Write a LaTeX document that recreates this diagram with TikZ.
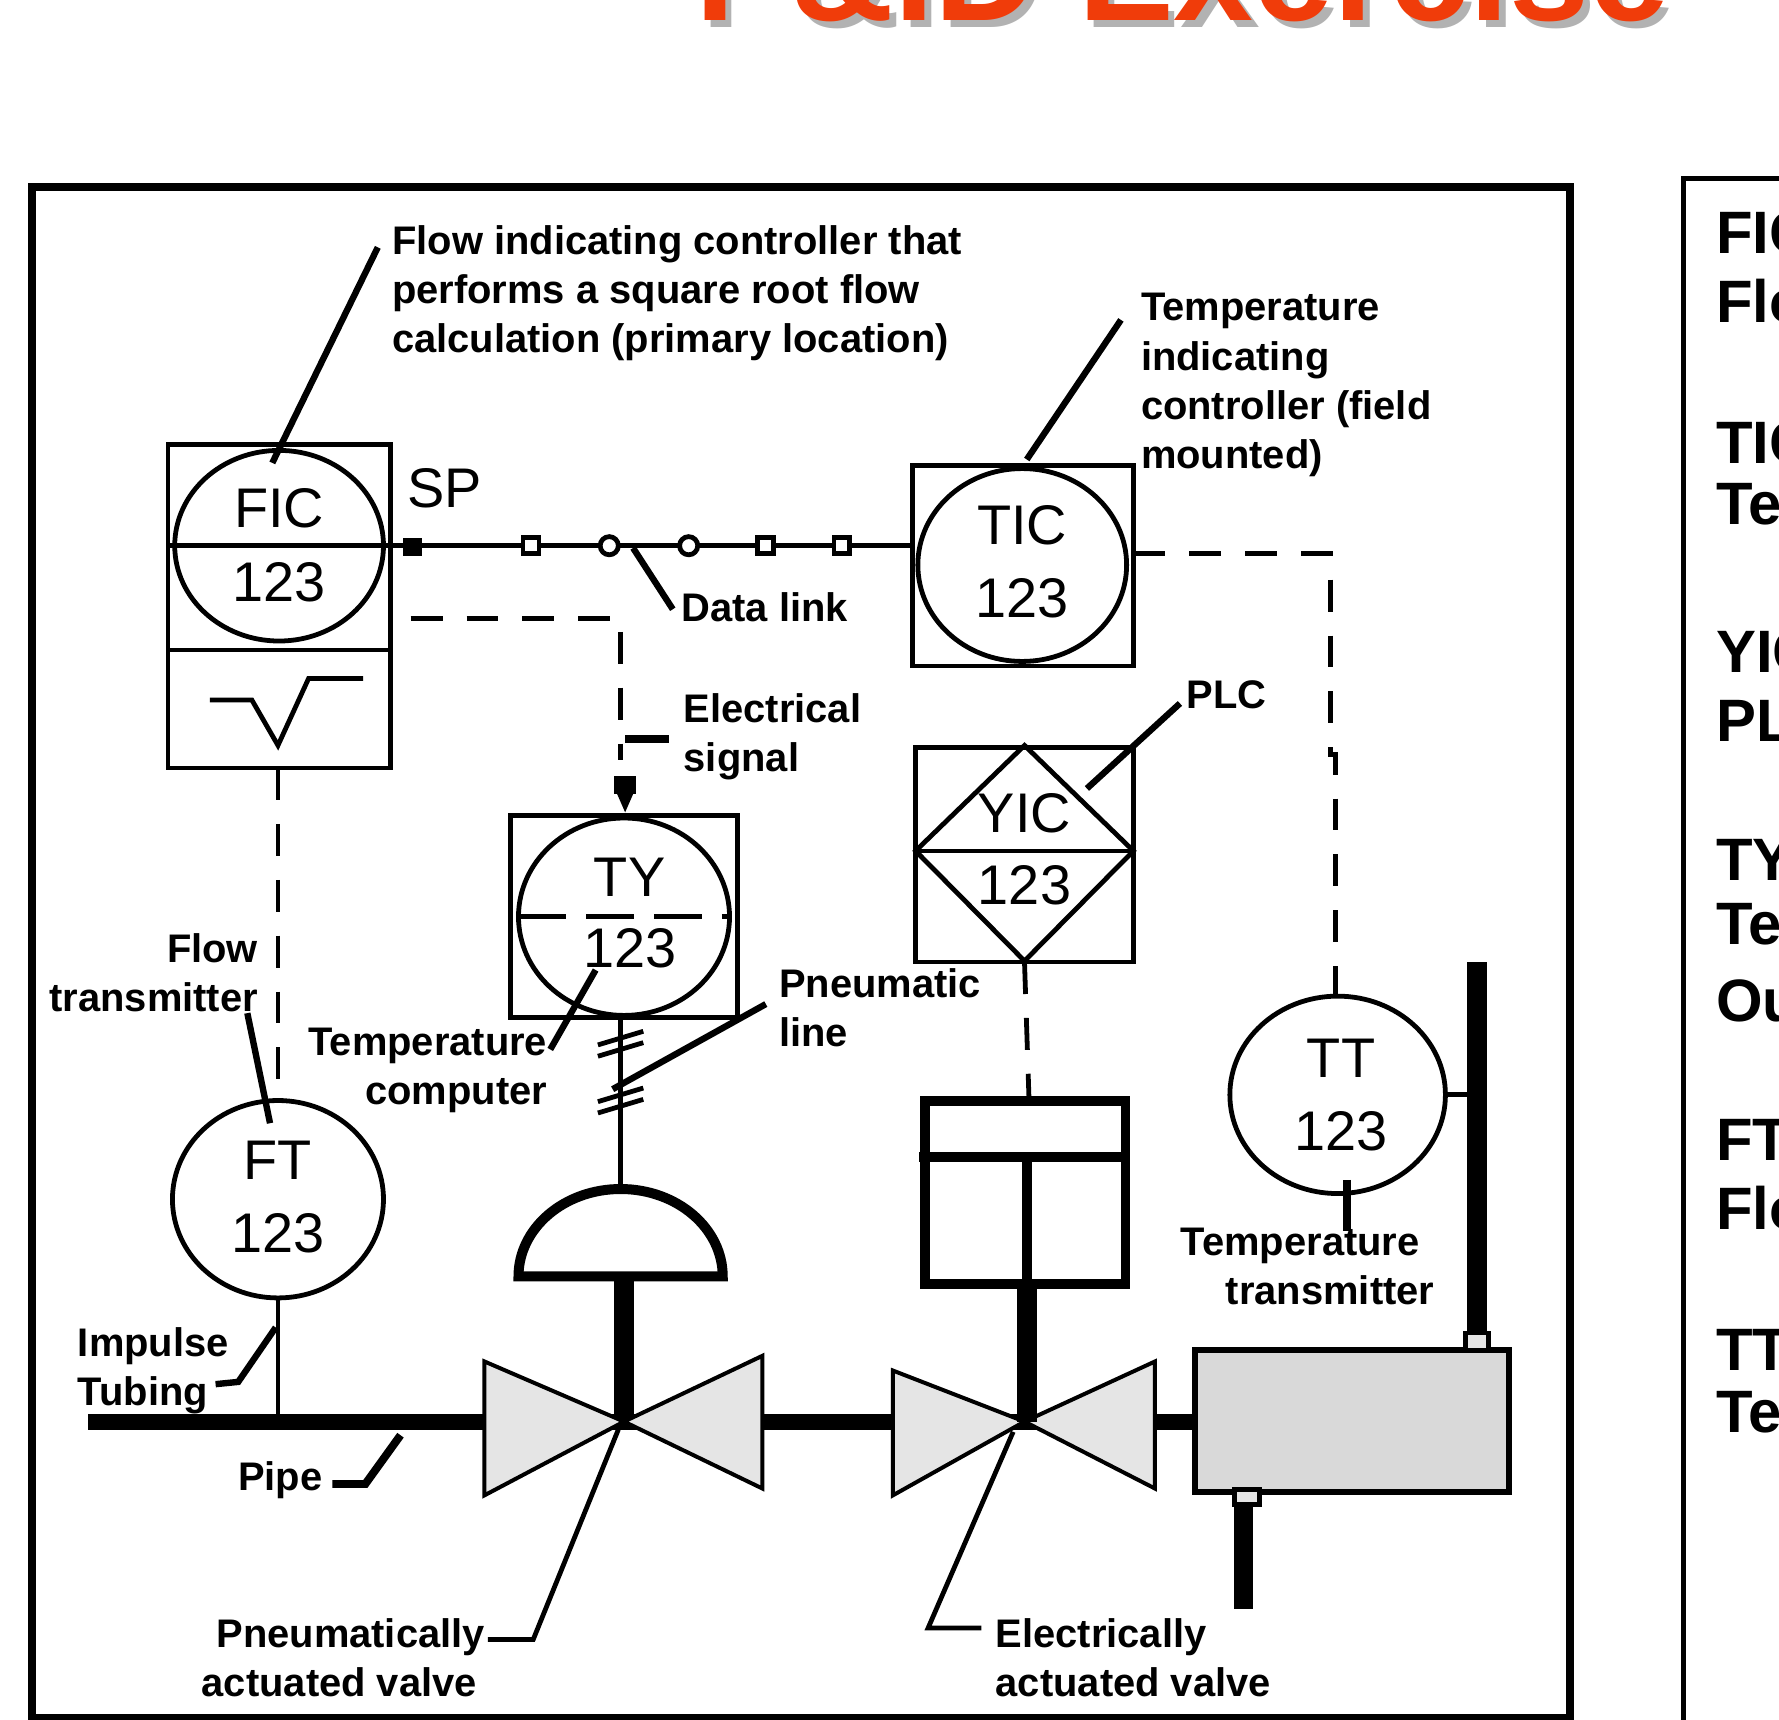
\documentclass[tikz,border=0pt]{standalone}
\usepackage{fontspec}
\setmainfont{Liberation Sans}
\usetikzlibrary{arrows.meta}
\begin{document}
\begin{tikzpicture}[x=0.01cm,y=-0.01cm,
 lab/.style={font=\fontsize{10}{12.3}\selectfont\bfseries,inner sep=0,align=left},
 tag/.style={font=\fontsize{14}{14}\selectfont,inner sep=0},
 side/.style={font=\fontsize{15}{18}\selectfont\bfseries,inner sep=0,anchor=west},
 thin/.style={line width=1.2pt},
 dsh/.style={line width=1.2pt,dash pattern=on 8pt off 6pt},
 pipe/.style={line width=4pt},
 vtri/.style={fill=gray!20,line width=1pt}]
\useasboundingbox (0,0) rectangle (1568,1516);
% title
\node[anchor=base west,inner sep=0,font=\fontsize{36}{36}\selectfont\bfseries,text=gray!60] (ts) at (618,24) {P\&ID Exercise};
\node[anchor=base west,inner sep=0,font=\fontsize{36}{36}\selectfont\bfseries,text={rgb,255:red,240;green,60;blue,10}] (title) at (612,18) {P\&ID Exercise};
% frames
\draw[line width=2pt] (28,165) rectangle (1384,1514);
\draw[line width=1.2pt] (1600,157) -- (1484,157) -- (1484,1530);
% side panel
\node[side] (s1) at (1512,205) {FIC};
\node[side] (s2) at (1512,265) {Flow};
\node[side] (s3) at (1512,390) {TIC};
\node[side] (s4) at (1512,450) {Temp};
\node[side] (s5) at (1512,575) {YIC};
\node[side] (s6) at (1512,635) {PLC};
\node[side] (s7) at (1512,758) {TY};
\node[side] (s8) at (1512,820) {Temp};
\node[side] (s9) at (1512,882) {Out};
\node[side] (s10) at (1512,1005) {FT};
\node[side] (s11) at (1512,1065) {Flow};
\node[side] (s12) at (1512,1190) {TT};
\node[side] (s13) at (1512,1250) {Temp};
% FIC
\draw[thin] (148,392) rectangle (344,677);
\draw[thin] (148,573) -- (344,573);
\draw[thin] (246,481) ellipse [x radius=92,y radius=84];
\draw[thin] (148,481) -- (344,481);
\node[tag] (fic) at (246,448) {FIC};
\node[tag] (fic2) at (246,513) {123};
\draw[thin] (185,617) -- (222,617) -- (245,657) -- (272,598) -- (320,598);
\node[tag] (sp) at (392,430) {SP};
% data link
\draw[thin] (344,481) -- (805,481);
\fill (355,474) rectangle (372,490);
\foreach \x in {468,675,742} \draw[thin,fill=white] (\x-7,474) rectangle (\x+7,488);
\foreach \x in {537,607} \draw[thin,fill=white] (\x,481) circle (8);
\draw[line width=1.6pt] (558,483) -- (593,537);
\node[lab,anchor=west] (dl) at (600,535) {Data link};
% TIC
\draw[thin] (804,410) rectangle (999,587);
\draw[thin] (901,498) ellipse [x radius=92,y radius=85];
\node[tag] (tic) at (901,463) {TIC};
\node[tag] (tic2) at (901,527) {123};
\draw[line width=1.6pt] (988,282) -- (905,405);
\node[lab,anchor=north west] (tict) at (1005,258) {Temperature\\indicating\\controller (field\\mounted)};
\draw[line width=1.6pt] (333,218) -- (240,408);
\node[lab,anchor=north west] (fict) at (345,198) {Flow indicating controller that\\performs a square root flow\\calculation (primary location)};
% dashed TIC -> TT
\draw[dsh] (999,488) -- (1173,488) -- (1173,665) -- (1177,665) -- (1177,880);
% electrical signal
\draw[dsh] (362,545) -- (547,545) -- (547,670);
\fill (541,684) rectangle (561,700);
\fill (544,700) -- (558,700) -- (551,716) -- cycle;
\draw[line width=2pt] (551,651) -- (590,651);
\node[lab,anchor=north west] (es) at (602,611) {Electrical\\signal};
% TY
\draw[thin] (450,719) rectangle (650,897);
\draw[thin] (550,808) ellipse [x radius=93,y radius=87];
\draw[line width=1.2pt,dash pattern=on 12pt off 5pt] (457,808) -- (643,808);
\node[tag] (ty) at (555,773) {TY};
\node[tag] (ty2) at (555,836) {123};
\draw[line width=1.6pt] (525,855) -- (485,925);
\node[lab,anchor=north east,align=right] (tc) at (483,905) {Temperature\\computer};
% pneumatic line
\draw[thin] (547,897) -- (547,1048);
\foreach \y in {915,925,965,975} \draw[thin] (527,\y+6) -- (567,\y-6);
\draw[line width=1.6pt] (540,960) -- (675,885);
\node[lab,anchor=north west] (pl) at (686,853) {Pneumatic\\line};
% diaphragm actuator
\draw[line width=2.5pt] (457,1125) arc[start angle=180,end angle=360,x radius=90,y radius=77] -- cycle;
\draw[line width=5pt] (550,1125) -- (550,1253);
% pipe
\draw[pipe] (78,1253) -- (1053,1253);
% valves
\draw[vtri] (427,1200) -- (427,1318) -- (550,1253) -- cycle;
\draw[vtri] (672,1195) -- (672,1312) -- (550,1253) -- cycle;
\draw[vtri] (787,1208) -- (787,1318) -- (903,1253) -- cycle;
\draw[vtri] (1018,1200) -- (1018,1312) -- (903,1253) -- cycle;
% electric actuator
\draw[line width=2.5pt] (815,970) rectangle (992,1132);
\draw[line width=2.5pt] (810,1020) -- (992,1020);
\draw[line width=2.5pt] (905,1020) -- (905,1132);
\draw[line width=5pt] (905,1132) -- (905,1253);
% YIC
\draw[thin] (807,659) rectangle (999,848);
\draw[thin] (903,657) -- (999,750) -- (903,847) -- (807,750) -- cycle;
\draw[thin] (807,750) -- (999,750);
\node[tag] (yic) at (903,717) {YIC};
\node[tag] (yic2) at (903,780) {123};
\draw[line width=1.6pt] (958,695) -- (1040,620);
\node[lab,anchor=west] (plc) at (1045,612) {PLC};
\draw[dsh] (903,848) -- (907,970);
% TT
\draw[thin] (1179,965) ellipse [x radius=95,y radius=87];
\node[tag] (tt) at (1182,933) {TT};
\node[tag] (tt2) at (1182,997) {123};
\draw[thin] (1274,965) -- (1300,965);
\draw[line width=2pt] (1187,1040) -- (1187,1085);
\node[lab,anchor=north,align=center] (ttt) at (1146,1082) {Temperature\\\hspace*{1.5em}transmitter};
% tank
\draw[line width=1.5pt,fill=gray!30] (1053,1190) rectangle (1330,1315);
\draw[line width=5pt] (1302,848) -- (1302,1175);
\draw[thin,fill=gray!20] (1292,1175) rectangle (1312,1190);
\draw[thin,fill=gray!20] (1088,1313) rectangle (1110,1326);
\draw[line width=5pt] (1096,1326) -- (1096,1418);
% FT
\draw[thin] (245,1057) ellipse [x radius=93,y radius=87];
\node[tag] (ft) at (245,1023) {FT};
\node[tag] (ft2) at (245,1087) {123};
\draw[dsh] (245,677) -- (245,970);
\draw[line width=1.6pt] (218,893) -- (238,990);
\node[lab,anchor=north east,align=right] (ftt) at (228,822) {Flow\\transmitter};
\draw[thin] (245,1144) -- (245,1253);
\draw[line width=1.6pt] (243,1170) -- (210,1218) -- (190,1220);
\node[lab,anchor=north west] (imp) at (68,1169) {Impulse\\Tubing};
\draw[line width=2pt] (293,1308) -- (322,1308) -- (353,1265);
\node[lab,anchor=east] (pipet) at (285,1305) {Pipe};
% valve leaders
\draw[line width=1.2pt] (545,1260) -- (470,1445) -- (430,1445);
\node[lab,anchor=north east,align=right] (pav) at (428,1426) {Pneumatically\\actuated valve\hspace*{0.2em}};
\draw[line width=1.2pt] (893,1262) -- (818,1435) -- (865,1435);
\node[lab,anchor=north west] (eav) at (877,1426) {Electrically\\actuated valve};
\end{tikzpicture}
\end{document}
